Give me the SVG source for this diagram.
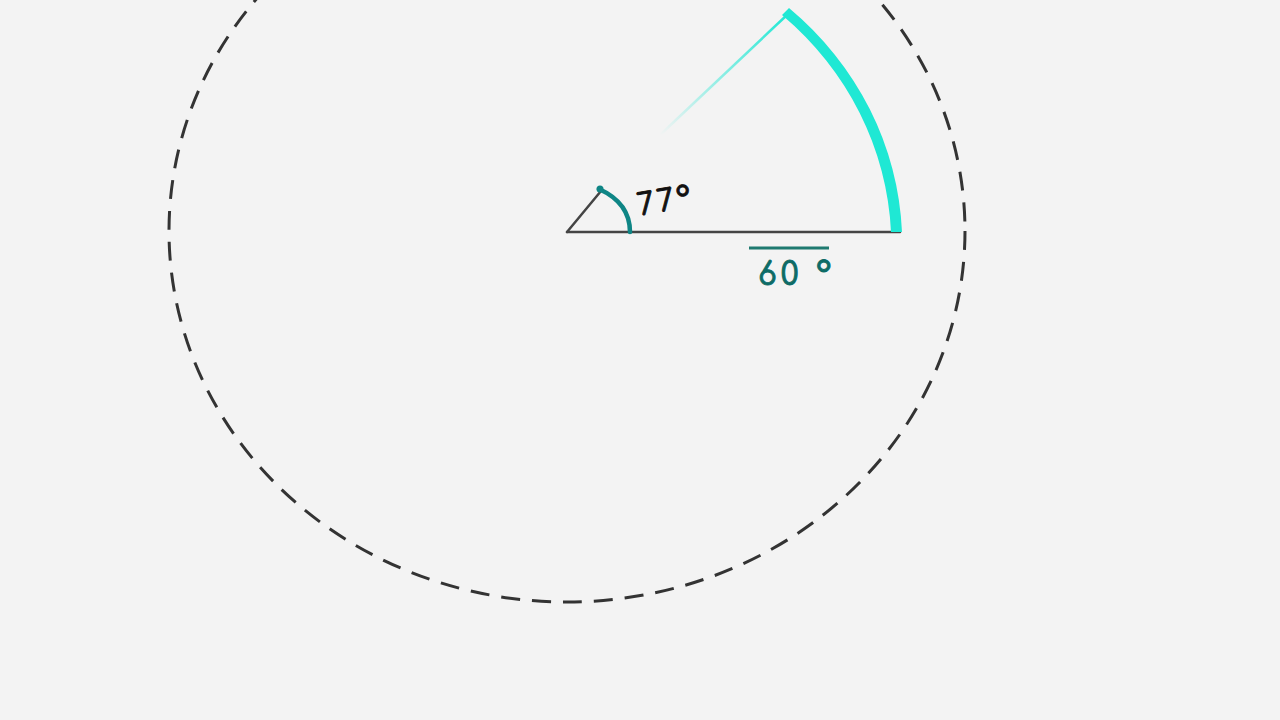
<svg xmlns="http://www.w3.org/2000/svg" width="1280" height="720" viewBox="0 0 1280 720">
<style>
.dash{fill:none;stroke:#333;stroke-width:3;stroke-dasharray:19 12}
.dark{stroke:#444;stroke-width:2.5;fill:none;stroke-linecap:round}
.teal{fill:none;stroke:#0e8585;stroke-width:4.5;stroke-linecap:round}
.cyan{fill:#1fe8d4;stroke:none}
.lbl{font-family:"Comfortaa","Liberation Sans",sans-serif;fill:#0d6b66;stroke:#0d6b66;stroke-width:0.9}
</style>
<defs>
<linearGradient id="fade" gradientUnits="userSpaceOnUse" x1="788" y1="14" x2="660" y2="135">
<stop offset="0" stop-color="#1fe8d4" stop-opacity="1"/>
<stop offset="1" stop-color="#1fe8d4" stop-opacity="0"/>
</linearGradient>
</defs>
<rect width="1280" height="720" fill="#f3f3f3"/>
<g id="circle">
<ellipse class="dash" cx="567" cy="231" rx="398" ry="371"/>
</g>
<g id="connectors">
<line class="dark" x1="567" y1="232" x2="900" y2="232"/>
<line class="dark" x1="567" y1="232" x2="601" y2="191"/>
</g>
<g id="sector">
<line x1="788" y1="14" x2="660" y2="135" stroke="url(#fade)" stroke-width="2.5"/>
<path class="cyan" d="M782,15 L789,8 A334,316 0 0 1 902,232 L891,232 A324,308 0 0 0 782,15 Z"/>
</g>
<g id="small-angle">
<path class="teal" d="M599,189 Q630,203 630,232"/>
<circle cx="600" cy="189" r="3.5" fill="#0e8585"/>
<text x="636" y="212" font-size="30" font-family="Comfortaa, Liberation Sans, sans-serif" fill="#111" stroke="#111" stroke-width="0.9" letter-spacing="3" transform="rotate(-10 660 195)">77°</text>
</g>
<g id="label-60">
<line x1="749" y1="248" x2="829" y2="248" stroke="#1f7a70" stroke-width="3"/>
<text class="lbl" x="758" y="285" font-size="32" letter-spacing="4">60 °</text>
</g>
</svg>
